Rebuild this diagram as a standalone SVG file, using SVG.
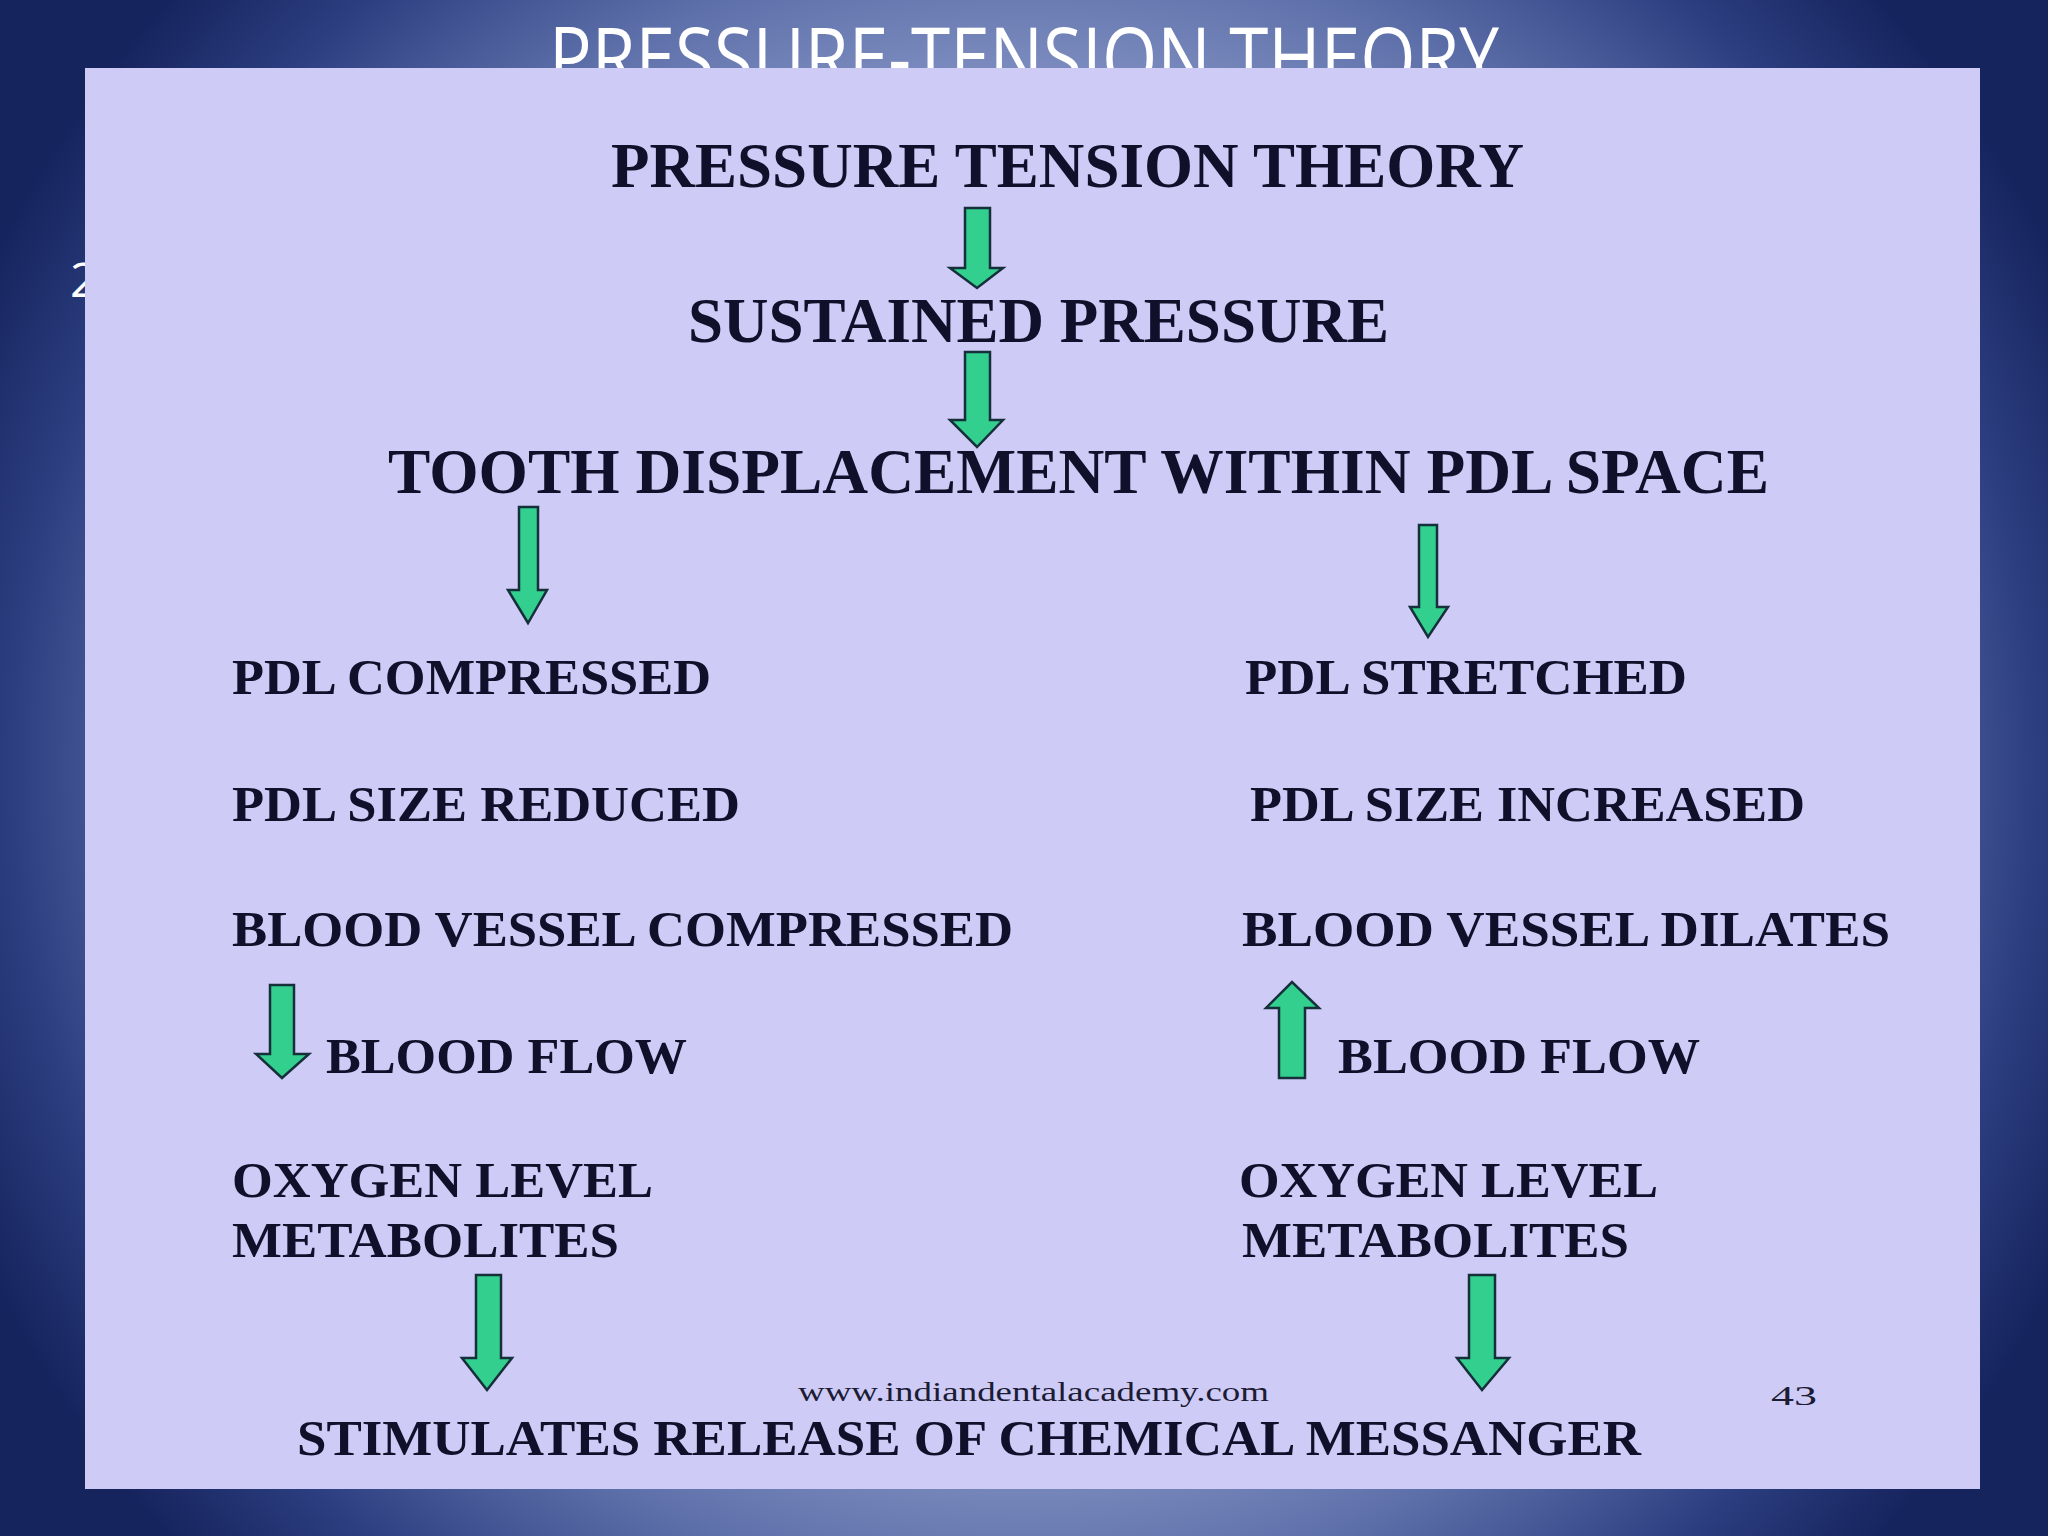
<svg xmlns="http://www.w3.org/2000/svg" width="2048" height="1536" viewBox="0 0 2048 1536">
  <defs>
    <radialGradient id="bg" gradientUnits="userSpaceOnUse" cx="1024" cy="768" r="1150">
      <stop offset="0" stop-color="#a4b1da"/>
      <stop offset="0.55" stop-color="#8a99c9"/>
      <stop offset="0.72" stop-color="#5d6fa9"/>
      <stop offset="0.88" stop-color="#2c3e80"/>
      <stop offset="1" stop-color="#16245e"/>
    </radialGradient>
    <style>
      .slide { fill: #ffffff; font-family: "Open Sans", "Liberation Sans", sans-serif; }
      .head { fill: #10102a; font-family: "Liberation Serif", "Times New Roman", serif; font-weight: bold; font-size: 63px; }
      .item { fill: #10102a; font-family: "Liberation Serif", "Times New Roman", serif; font-weight: bold; font-size: 51px; }
      .foot { fill: #1c1c34; font-family: "Liberation Serif", "Times New Roman", serif; font-size: 28px; }
      .arrow { fill: #32cf8e; stroke: #15303a; stroke-width: 2.5; stroke-linejoin: miter; }
    </style>
  </defs>

  <rect x="0" y="0" width="2048" height="1536" fill="url(#bg)"/>

  <g id="slide-title">
    <text class="slide" x="549" y="88" font-size="84" textLength="950" lengthAdjust="spacingAndGlyphs">PRESSURE-TENSION THEORY</text>
    <text class="slide" x="70" y="297" font-size="48">2</text>
  </g>

  <rect id="panel" x="85" y="68" width="1895" height="1421" fill="#cecbf7"/>

  <g id="connectors">
    <polygon class="arrow" points="965,208 990,208 990,268 1003,268 977,288 950,268 965,268"/>
    <polygon class="arrow" points="965,352 990,352 990,420 1003,420 977,447 950,420 965,420"/>
    <polygon class="arrow" points="519,507 538,507 538,590 547,590 528,623 508,590 519,590"/>
    <polygon class="arrow" points="1419,525 1437,525 1437,607 1448,607 1428,637 1410,607 1419,607"/>
    <polygon class="arrow" points="270,985 294,985 294,1054 309,1054 282,1078 256,1054 270,1054"/>
    <polygon class="arrow" points="1279,1078 1305,1078 1305,1008 1319,1008 1292,982 1266,1008 1279,1008"/>
    <polygon class="arrow" points="476,1275 501,1275 501,1358 512,1358 487,1390 462,1358 476,1358"/>
    <polygon class="arrow" points="1469,1275 1495,1275 1495,1358 1509,1358 1482,1390 1457,1358 1469,1358"/>
  </g>

  <g id="node-theory">
    <text class="head" x="611" y="187" textLength="913" lengthAdjust="spacingAndGlyphs">PRESSURE TENSION THEORY</text>
  </g>
  <g id="node-sustained">
    <text class="head" x="688" y="342" textLength="701" lengthAdjust="spacingAndGlyphs">SUSTAINED PRESSURE</text>
  </g>
  <g id="node-displacement">
    <text class="head" x="388" y="493" font-size="64" textLength="1381" lengthAdjust="spacingAndGlyphs">TOOTH DISPLACEMENT WITHIN PDL SPACE</text>
  </g>

  <g id="node-compression">
    <text class="item" x="232" y="694" textLength="479" lengthAdjust="spacingAndGlyphs">PDL COMPRESSED</text>
    <text class="item" x="232" y="821" textLength="508" lengthAdjust="spacingAndGlyphs">PDL SIZE REDUCED</text>
    <text class="item" x="232" y="946" textLength="781" lengthAdjust="spacingAndGlyphs">BLOOD VESSEL COMPRESSED</text>
    <text class="item" x="326" y="1073" textLength="361" lengthAdjust="spacingAndGlyphs">BLOOD FLOW</text>
    <text class="item" x="232" y="1197" textLength="421" lengthAdjust="spacingAndGlyphs">OXYGEN LEVEL</text>
    <text class="item" x="232" y="1257" textLength="387" lengthAdjust="spacingAndGlyphs">METABOLITES</text>
  </g>

  <g id="node-tension">
    <text class="item" x="1245" y="694" textLength="442" lengthAdjust="spacingAndGlyphs">PDL STRETCHED</text>
    <text class="item" x="1250" y="821" textLength="555" lengthAdjust="spacingAndGlyphs">PDL SIZE INCREASED</text>
    <text class="item" x="1242" y="946" textLength="648" lengthAdjust="spacingAndGlyphs">BLOOD VESSEL DILATES</text>
    <text class="item" x="1338" y="1073" textLength="362" lengthAdjust="spacingAndGlyphs">BLOOD FLOW</text>
    <text class="item" x="1239" y="1197" textLength="419" lengthAdjust="spacingAndGlyphs">OXYGEN LEVEL</text>
    <text class="item" x="1242" y="1257" textLength="387" lengthAdjust="spacingAndGlyphs">METABOLITES</text>
  </g>

  <g id="node-messenger">
    <text class="item" x="297" y="1455" font-size="53" textLength="1344" lengthAdjust="spacingAndGlyphs">STIMULATES RELEASE OF CHEMICAL MESSANGER</text>
  </g>

  <g id="footer">
    <text class="foot" x="798" y="1401" textLength="471" lengthAdjust="spacingAndGlyphs">www.indiandentalacademy.com</text>
    <text class="foot" x="1771" y="1405" textLength="46" lengthAdjust="spacingAndGlyphs">43</text>
  </g>
</svg>
